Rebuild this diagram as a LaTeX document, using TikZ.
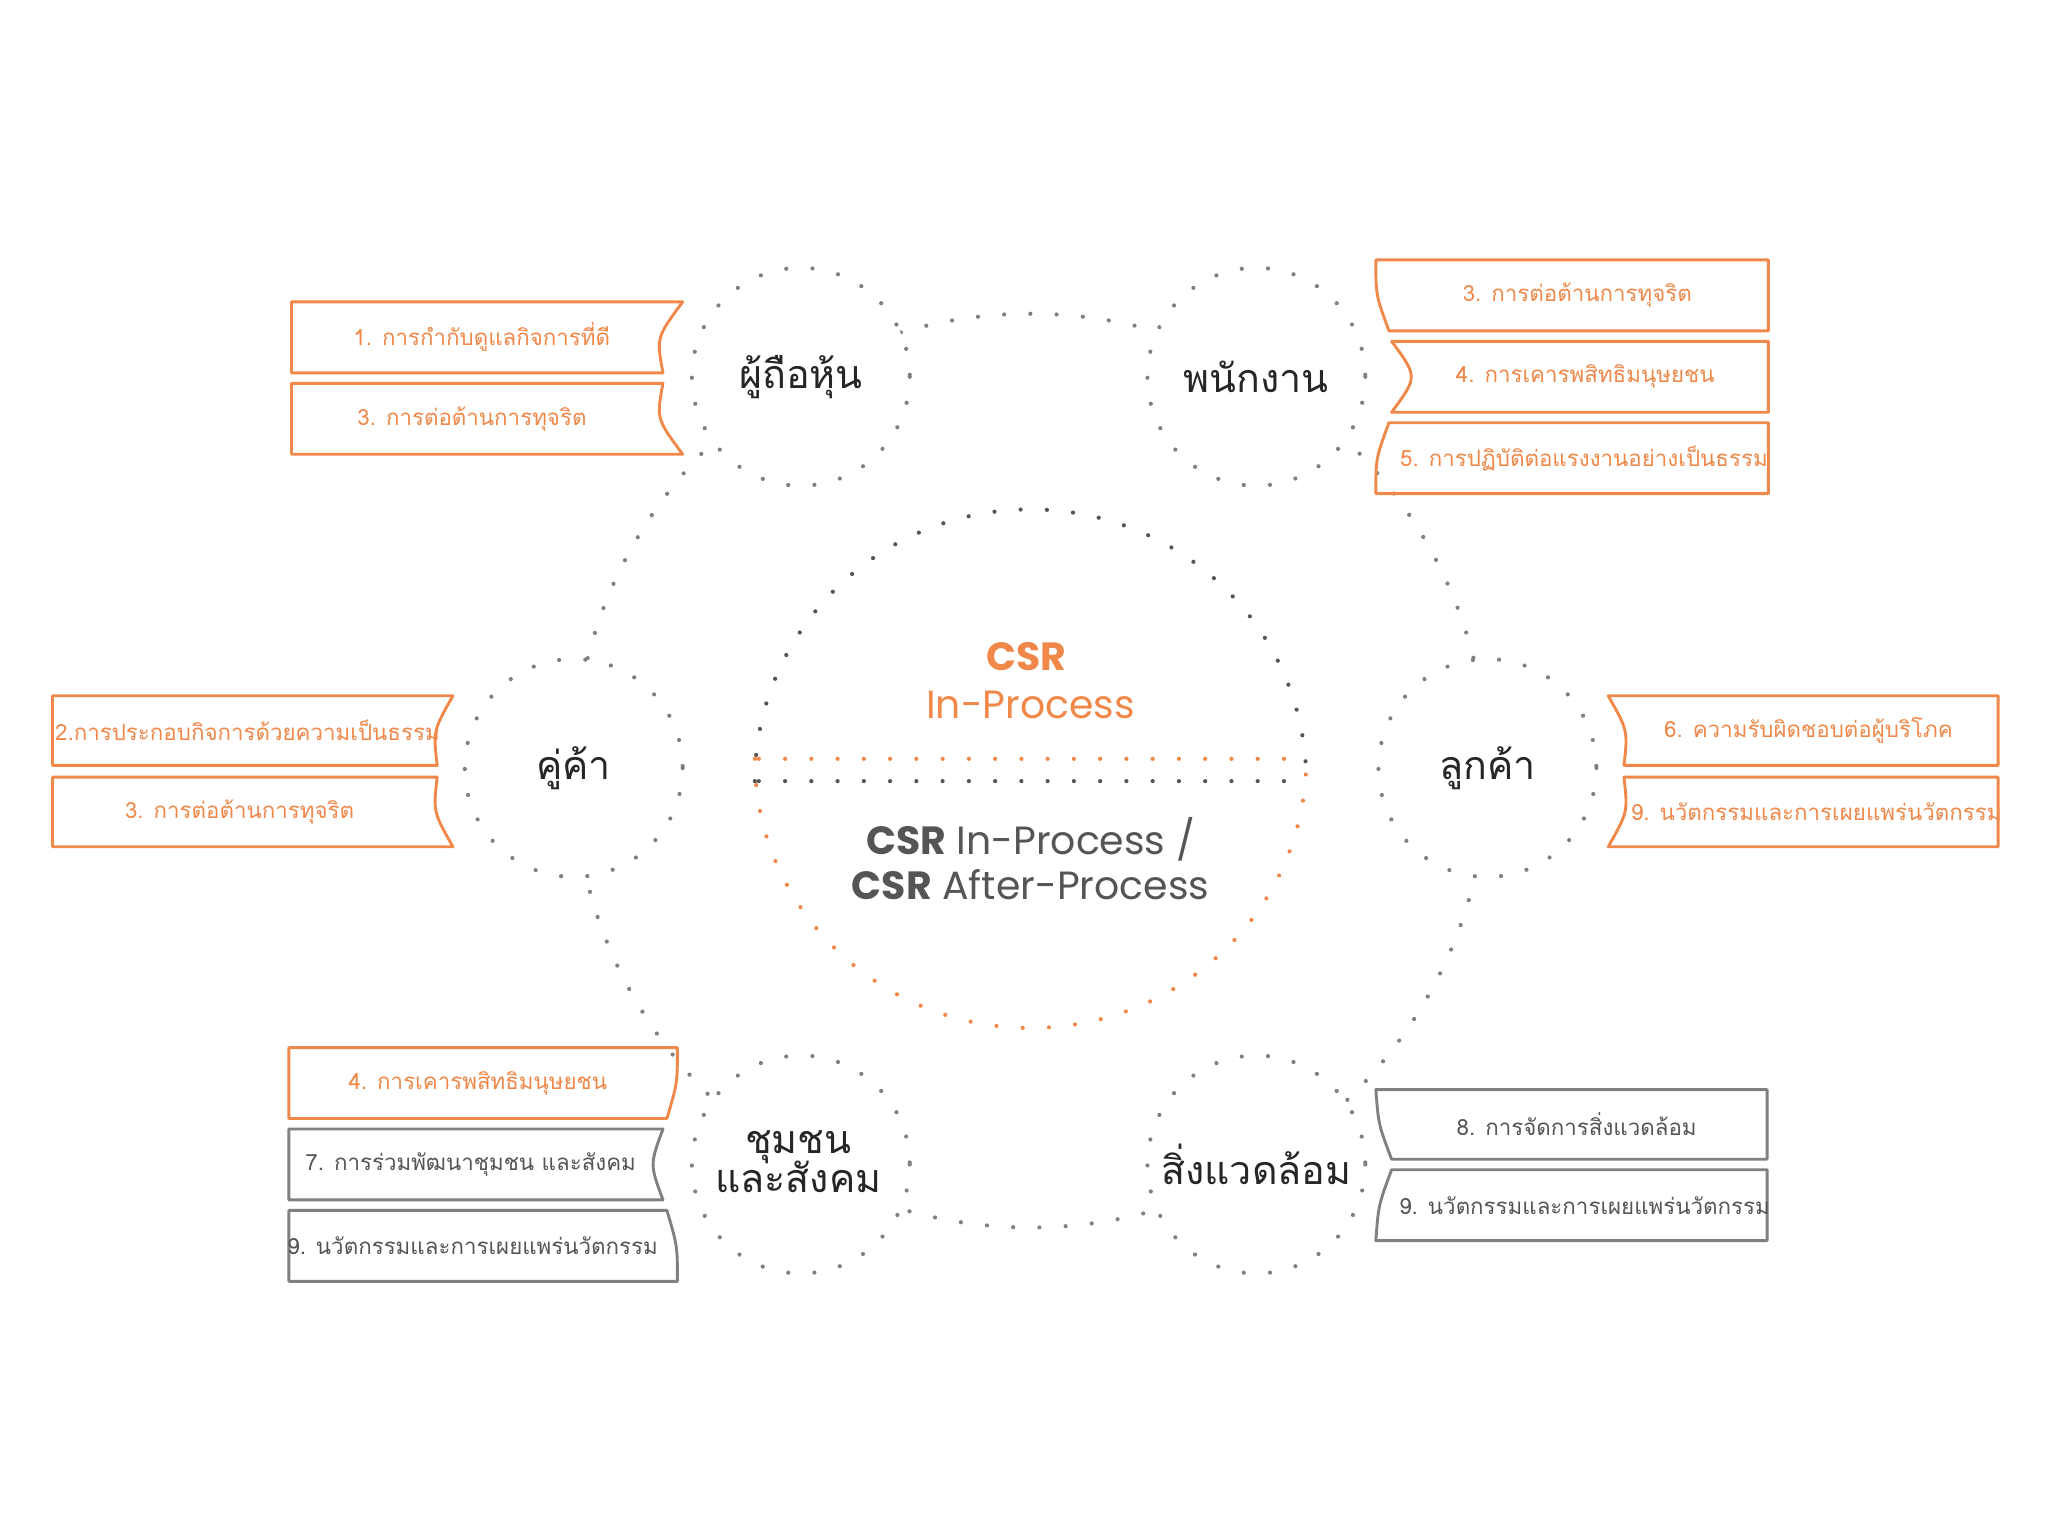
\documentclass[tikz,border=0pt]{standalone}
\usepackage{fontspec}
\setmainfont{Poppins}
\newfontfamily\thai[Script=Thai]{Loma}
\definecolor{org}{HTML}{F0884A}
\definecolor{gtx}{HTML}{555555}
\definecolor{gln}{HTML}{808080}
\tikzset{
  dotring/.style={draw=#1, line width=1.6pt, line cap=round, dash pattern=on 0pt off 10pt},
  boxtext/.style={font=\thai\fontsize{8.5}{10}\selectfont, text=#1},
  satlabel/.style={font=\thai\fontsize{15}{17}\selectfont, text=black!85, align=center},
  boxline/.style={draw=#1, line width=1.1pt, line join=round}
}
% left-group box: curved right edge
\newcommand\lbox[9]{% name x1 y1 x2top xctrl x2bot y2 color text
  \draw[boxline=#8] (#5,{(#3+#7)/2}) coordinate (#1c);
  \draw[boxline=#8] (#2,#3) -- (#4,#3) .. controls (#5,{(#3+#7)/2}) .. (#6,#7) -- (#2,#7) -- cycle;
  \node[boxtext=#8] (#1) at ({(#2+#4-8)/2},{(#3+#7)/2}) {#9};}
\newcommand\rbox[9]{% name x1top xctrl x1bot y1 x2 y2 color text
  \draw[boxline=#8] (#2,#5) -- (#6,#5) -- (#6,#7) -- (#4,#7) .. controls (#3,{(#5+#7)/2}) .. cycle;
  \node[boxtext=#8] (#1) at ({(#2+#6+8)/2},{(#5+#7)/2}) {#9};}
\begin{document}
\begin{tikzpicture}[x=0.5pt,y=-0.5pt]
\useasboundingbox[fill=white] (0,0) rectangle (1560,1170);
% big ring
\node[circle, minimum size=696pt*0.5, inner sep=0] (ring) at (785,587) {};
\draw[dotring=gln] (785,587) circle (348);
% satellites
\foreach \n/\x/\y in {sh/610/287, em/957/287, pa/437/585, cu/1133/585, co/610/887, en/957/887}{
  \fill[white] (\x,\y) circle (83);
  \draw[dotring=gln] (\x,\y) circle (83);
}
\node[satlabel] (shl) at (610,287) {ผู้ถือหุ้น};
\node[satlabel] (eml) at (957,287) {พนักงาน};
\node[satlabel] (pal) at (437,585) {คู่ค้า};
\node[satlabel] (cul) at (1133,585) {ลูกค้า};
\node[satlabel] (col) at (608,885) {ชุมชน\\[-2pt]และสังคม};
\node[satlabel] (enl) at (957,887) {สิ่งแวดล้อม};
% inner circle
\draw[dotring=org] (575,578) arc (180:0:210 and 205);
\draw[dotring=gtx] (575,595) arc (180:360:210 and 207);
\draw[dotring=org] (578,578) -- (992,578);
\draw[dotring=gtx] (578,595) -- (992,595);
\node[font=\bfseries\fontsize{15}{17}\selectfont, text=org] (csr) at (782,500) {CSR};
\node[font=\fontsize{15}{17}\selectfont, text=org] (inp) at (785,537) {In-Process};
\node[font=\fontsize{15}{17}\selectfont, text=gtx] (g1) at (785,639) {\textbf{CSR} In-Process /};
\node[font=\fontsize{15}{17}\selectfont, text=gtx] (g2) at (785,674) {\textbf{CSR} After-Process};
% boxes: shareholders
\lbox{b1}{222}{230}{520}{500}{505}{284}{org}{1. การกำกับดูแลกิจการที่ดี}
\lbox{b2}{222}{292}{505}{500}{520}{346}{org}{3. การต่อต้านการทุจริต}
% employees
\rbox{b3}{1048}{1048}{1058}{198}{1347}{252}{org}{3. การต่อต้านการทุจริต}
\rbox{b4}{1060}{1080}{1060}{260}{1347}{314}{org}{4. การเคารพสิทธิมนุษยชน}
\rbox{b5}{1058}{1048}{1048}{322}{1347}{376}{org}{5. การปฏิบัติต่อแรงงานอย่างเป็นธรรม}
% partners
\lbox{b6}{40}{530}{345}{330}{333}{583}{org}{2.การประกอบกิจการด้วยความเป็นธรรม}
\lbox{b7}{40}{592}{333}{330}{345}{645}{org}{3. การต่อต้านการทุจริต}
% customers
\rbox{b8}{1225}{1240}{1237}{530}{1522}{583}{org}{6. ความรับผิดชอบต่อผู้บริโภค}
\rbox{b9}{1237}{1240}{1225}{592}{1522}{645}{org}{9. นวัตกรรมและการเผยแพร่นวัตกรรม}
% community
\lbox{b10}{220}{798}{516}{516}{508}{852}{org}{4. การเคารพสิทธิมนุษยชน}
\lbox{b11}{220}{860}{505}{495}{505}{914}{gln}{\color{gtx}7. การร่วมพัฒนาชุมชน และสังคม}
\lbox{b12}{220}{922}{508}{516}{516}{976}{gln}{\color{gtx}9. นวัตกรรมและการเผยแพร่นวัตกรรม}
% environment
\rbox{b13}{1048}{1050}{1060}{830}{1346}{883}{gln}{\color{gtx}8. การจัดการสิ่งแวดล้อม}
\rbox{b14}{1060}{1050}{1048}{891}{1346}{945}{gln}{\color{gtx}9. นวัตกรรมและการเผยแพร่นวัตกรรม}
\end{tikzpicture}
\end{document}
